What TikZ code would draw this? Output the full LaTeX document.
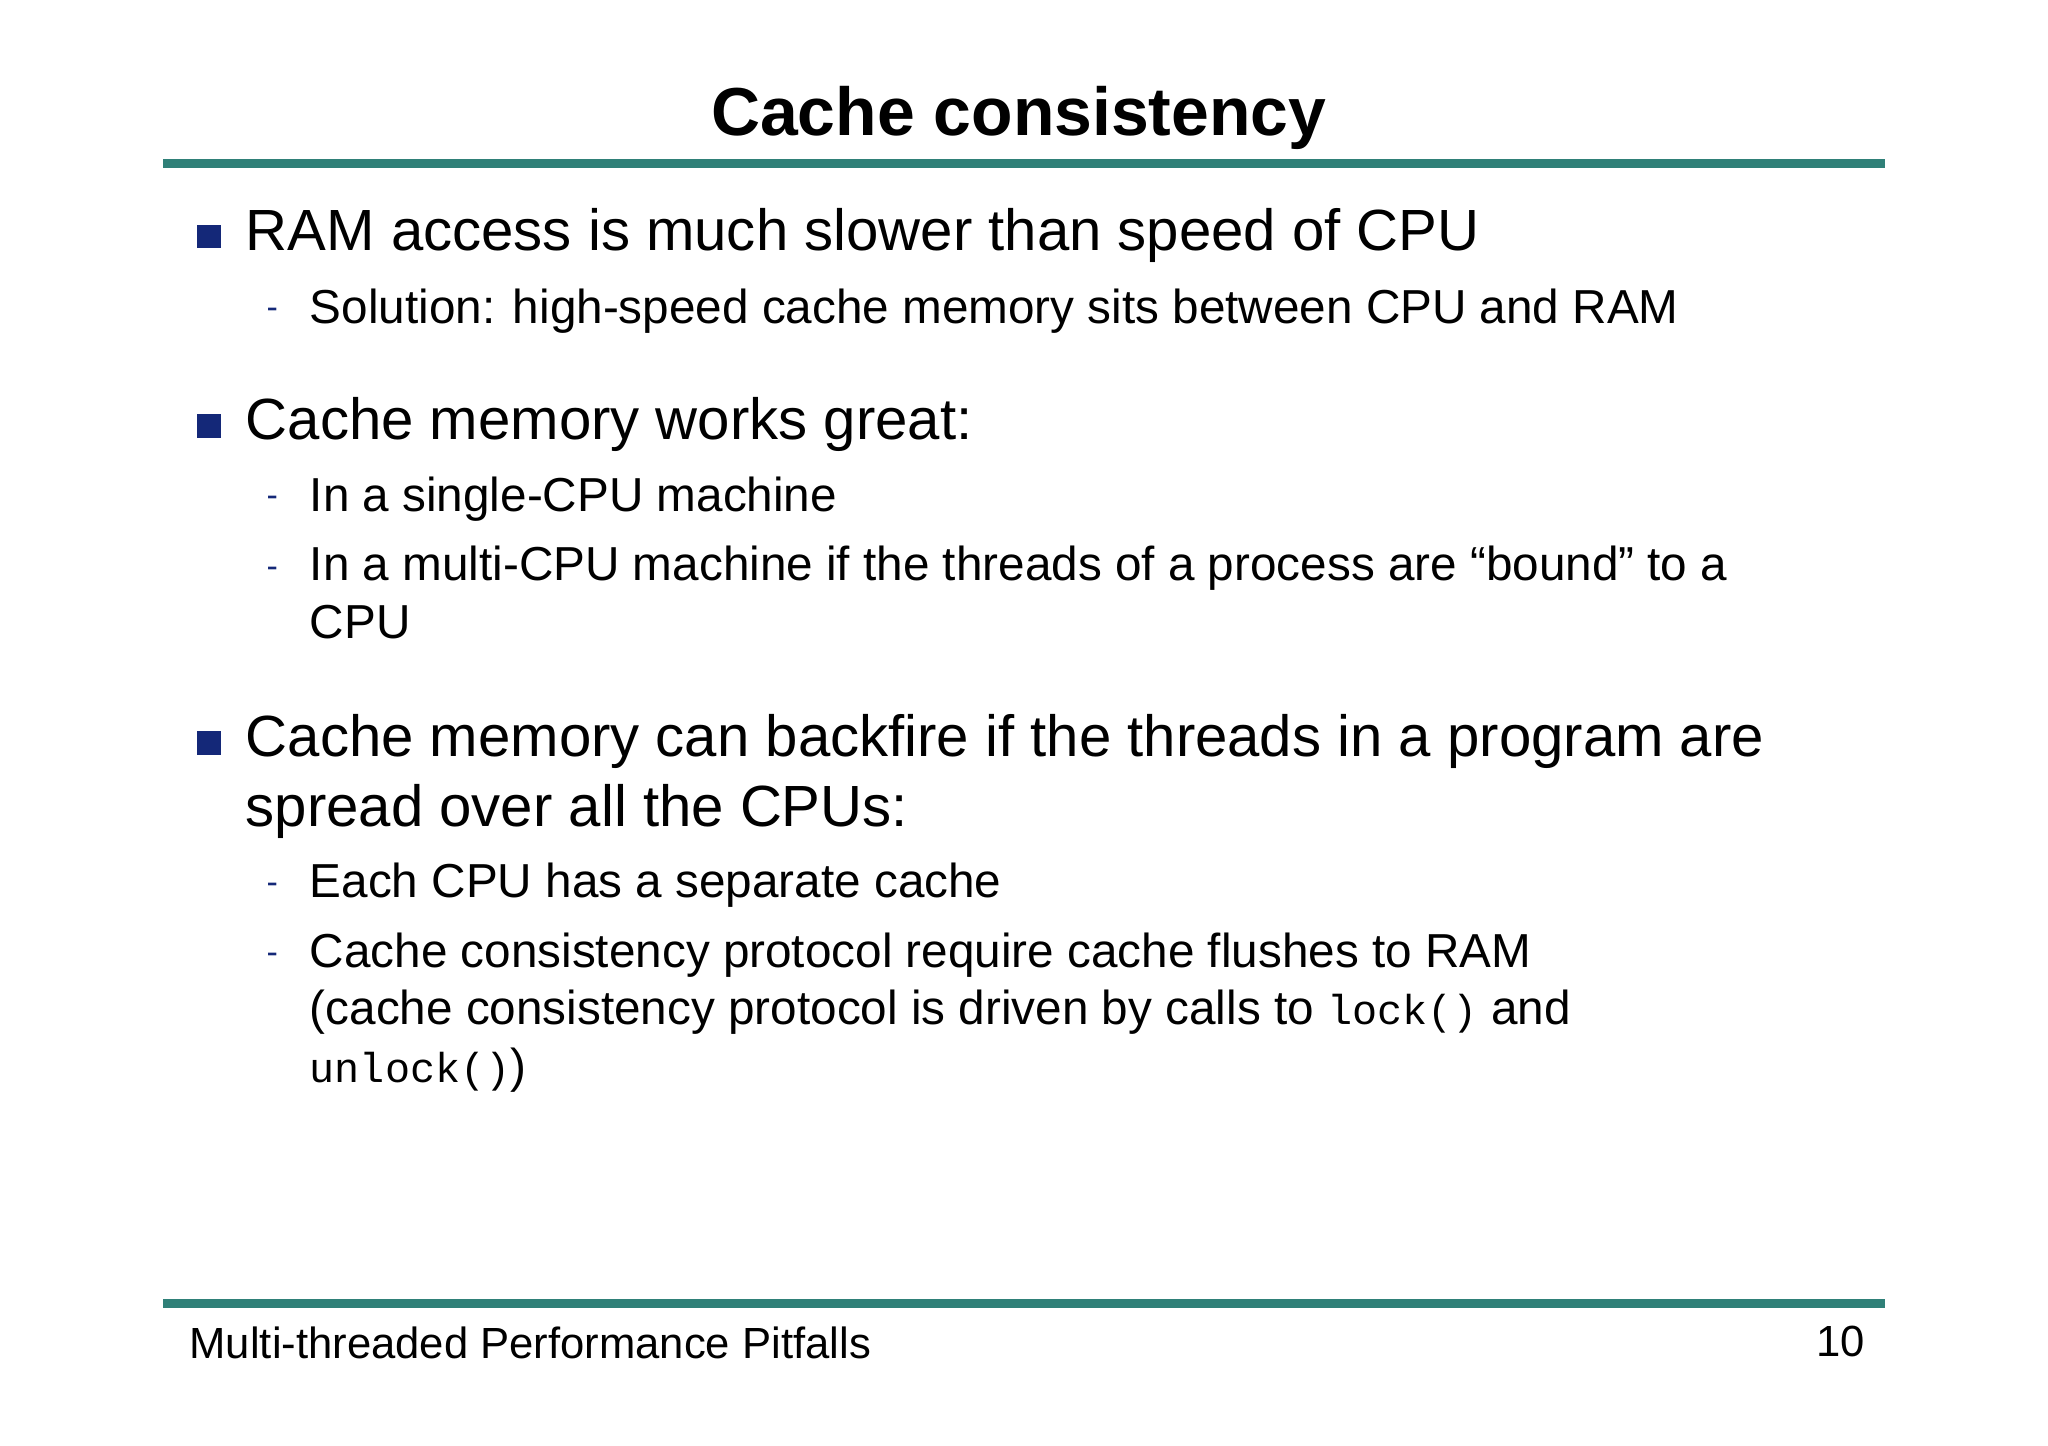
\documentclass[tikz,border=0pt]{standalone}
\usepackage{fontspec}
\setmainfont{Liberation Sans}
\setmonofont{Liberation Mono}
\definecolor{teal}{RGB}{47,128,120}
\definecolor{navy}{RGB}{20,40,120}
\begin{document}
\begin{tikzpicture}[x=1pt,y=-1pt,
  lone/.style={anchor=west,inner sep=0pt,font=\fontsize{44.5}{53}\selectfont},
  ltwo/.style={anchor=west,inner sep=0pt,font=\fontsize{36.5}{44}\selectfont,align=left},
  sq/.style={fill=navy,minimum size=18pt,inner sep=0pt},
  dsh/.style={anchor=west,inner sep=0pt,text=navy,font=\fontsize{26}{30}\selectfont}]
\useasboundingbox (0,0) rectangle (1568,1107);
\node[font=\fontsize{52}{60}\selectfont\bfseries] (title) at (780,90) {Cache consistency};
\draw[teal,line width=7pt] (125,125) coordinate (t1) -- (1443,125) coordinate (t2);
\draw[teal,line width=7pt] (125,998) coordinate (b1) -- (1443,998) coordinate (b2);
\node[sq] (s1) at (160,181) {};
\node[lone] (l1) at (188,180) {RAM access is much slower than speed of CPU};
\node[dsh] (d1) at (204,240) {-};
\node[ltwo] (m1) at (237,238) {Solution: high-speed cache memory sits between CPU and RAM};
\node[sq] (s2) at (160,326) {};
\node[lone] (l2) at (188,325) {Cache memory works great:};
\node[dsh] (d2) at (204,384) {-};
\node[ltwo] (m2) at (237,382) {In a single-CPU machine};
\node[dsh] (d3) at (204,438) {-};
\node[ltwo,anchor=north west] (m3) at (237,418) {In a multi-CPU machine if the threads of a process are “bound” to a\\CPU};
\node[sq] (s3) at (160,569) {};
\node[lone,anchor=north west,align=left] (l3) at (188,547) {Cache memory can backfire if the threads in a program are\\spread over all the CPUs:};
\node[dsh] (d4) at (204,680) {-};
\node[ltwo] (m4) at (237,678) {Each CPU has a separate cache};
\node[dsh] (d5) at (204,734) {-};
\node[ltwo,anchor=north west] (m5) at (237,714) {Cache consistency protocol require cache flushes to RAM\\(cache consistency protocol is driven by calls to {\ttfamily\fontsize{32}{44}\selectfont lock()} and\\{\ttfamily\fontsize{32}{44}\selectfont unlock()})};
\node[anchor=west,inner sep=0pt,font=\fontsize{33.4}{38}\selectfont] (foot) at (145,1028) {Multi-threaded Performance Pitfalls};
\node[anchor=east,inner sep=0pt,font=\fontsize{33.4}{38}\selectfont] (pg) at (1428,1027) {10};
\end{tikzpicture}
\end{document}
